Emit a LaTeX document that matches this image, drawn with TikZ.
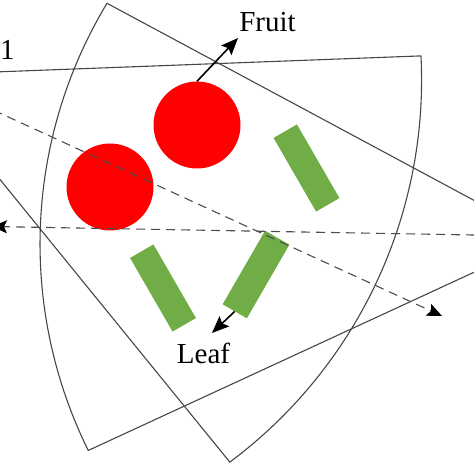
\documentclass[tikz,border=0pt]{standalone}
\usepackage{fontspec}
\setmainfont{Liberation Serif}
\usetikzlibrary{arrows.meta}

\definecolor{fruitred}{RGB}{255,0,0}
\definecolor{leafgreen}{RGB}{112,173,71}
\definecolor{fanline}{RGB}{70,70,70}

% Fan one (apex right, arc left):
\newcommand{\fanOneCx }{506}
\newcommand{\fanOneCy }{230}
\newcommand{\fanOneR  }{466}
\newcommand{\fanOneA  }{148.9}
\newcommand{\fanOneB  }{206.3}
% Fan two (apex left, arc right):
\newcommand{\fanTwoCx }{-55}
\newcommand{\fanTwoCy }{394}
\newcommand{\fanTwoR  }{476.6}
\newcommand{\fanTwoA  }{2.9}
\newcommand{\fanTwoB  }{-53.3}

\tikzset{
  fan/.style={line width=1.1pt, draw=fanline, line join=round},
  fruit/.style={circle, fill=fruitred, minimum size=87pt, inner sep=0pt},
  leaf/.style={rectangle, fill=leafgreen, minimum width=27pt, minimum height=85pt, inner sep=0pt},
  ray/.style={line width=1.1pt, draw=black!70, dash pattern=on 9pt off 6pt,
              -{Stealth[length=15pt, width=13pt, inset=3pt, color=black]}},
  pointer/.style={line width=1.6pt, -{Stealth[length=17pt, width=14pt, inset=3pt]}},
  partname/.style={font=\fontsize{29}{32}\selectfont, inner sep=0pt, anchor=base}
}

\begin{document}
\begin{tikzpicture}[x=1pt, y=1pt]

  \useasboundingbox (0,0) rectangle (474,474);
  \clip (0,0) rectangle (474,474);

  % Fans:
  \coordinate (apexOne) at (546,235);
  \coordinate (apexTwo) at (-85,399);
  \draw[fan] (apexOne) -- ([shift={(\fanOneA:\fanOneR)}]\fanOneCx,\fanOneCy)
      arc[start angle=\fanOneA, end angle=\fanOneB, radius=\fanOneR] -- cycle;
  \draw[fan] (apexTwo) -- ([shift={(\fanTwoA:\fanTwoR)}]\fanTwoCx,\fanTwoCy)
      arc[start angle=\fanTwoA, end angle=\fanTwoB, radius=\fanTwoR] -- cycle;

  % Fruits:
  \node[fruit] (fruitA) at (197,349) {};
  \node[fruit] (fruitB) at (110,287) {};

  % Leaves:
  \node[leaf, rotate=30]  (leafA) at (306.5,306) {};
  \node[leaf, rotate=30]  (leafB) at (163,186)   {};
  \node[leaf, rotate=-30, minimum width=28pt] (leafC) at (256,199.5) {};

  % Rays:
  \coordinate (rayOneStart) at (-20,370);
  \coordinate (rayOneEnd)   at (442,158);
  \coordinate (rayTwoStart) at (490,238.7);
  \coordinate (rayTwoEnd)   at (-8,247.5);
  \draw[ray] (rayOneStart) -- (rayOneEnd);
  \draw[ray] (rayTwoStart) -- (rayTwoEnd);

  % Pointers and names:
  \coordinate (fruitTip) at (238,436);
  \coordinate (leafTip)  at (212,141);
  \draw[pointer] (fruitA.north) -- (fruitTip);
  \draw[pointer] (leafC.south) -- (leafTip);
  \node[partname] (fruitName) at (267.5,442) {Fruit};
  \node[partname] (leafName)  at (203.5,110) {Leaf};
  \node[partname, anchor=base west] (camName) at (0,414) {1};

\end{tikzpicture}
\end{document}
